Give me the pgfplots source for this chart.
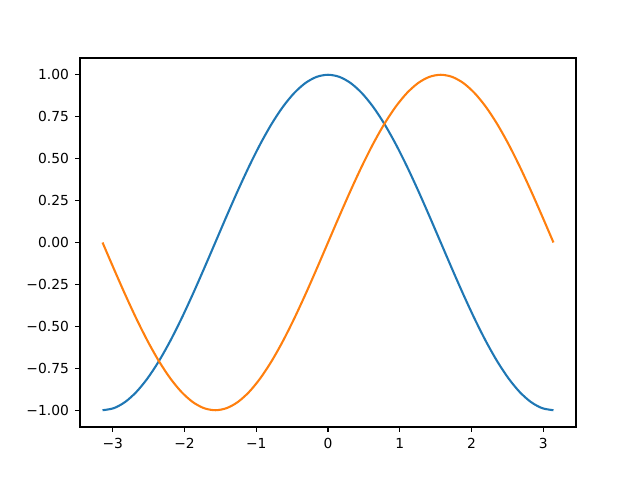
\documentclass[border=0pt]{standalone}
\usepackage{fontspec}
\setmainfont{DejaVu Sans}
\usepackage{pgfplots}
\pgfplotsset{compat=1.18}
\definecolor{tabblue}{HTML}{1F77B4}
\definecolor{taborange}{HTML}{FF7F0E}
\begin{document}
\begin{tikzpicture}
\path[use as bounding box] (-0.80in,-0.53in) rectangle (5.60in,4.27in);
\begin{axis}[
  at={(0,0)}, anchor=south west,
  scale only axis, width=4.96in, height=3.69in,
  xmin=-3.45575, xmax=3.45575, ymin=-1.1, ymax=1.1,
  axis line style={line width=0.8pt},
  tick style={line width=0.8pt, black},
  tick align=outside, major tick length=3.5pt,
  xtick pos=bottom, ytick pos=left,
  xtick={-3,-2,-1,0,1,2,3},
  xticklabels={−3,−2,−1,0,1,2,3},
  ytick={-1,-0.75,-0.5,-0.25,0,0.25,0.5,0.75,1},
  yticklabels={−1.00,−0.75,−0.50,−0.25,0.00,0.25,0.50,0.75,1.00},
  ticklabel style={font=\fontsize{10}{12}\selectfont},
  xticklabel style={yshift=-1pt},
  yticklabel style={xshift=-1pt},
]
\addplot[tabblue, line width=1.5pt, smooth] coordinates {
(-3.14159,-1) (-2.98451,-0.98769) (-2.82743,-0.95106) (-2.67035,-0.89101) (-2.51327,-0.80902)
(-2.35619,-0.70711) (-2.19911,-0.58779) (-2.04204,-0.45399) (-1.88496,-0.30902) (-1.72788,-0.15643)
(-1.57080,0) (-1.41372,0.15643) (-1.25664,0.30902) (-1.09956,0.45399) (-0.94248,0.58779)
(-0.78540,0.70711) (-0.62832,0.80902) (-0.47124,0.89101) (-0.31416,0.95106) (-0.15708,0.98769)
(0,1)
(0.15708,0.98769) (0.31416,0.95106) (0.47124,0.89101) (0.62832,0.80902) (0.78540,0.70711)
(0.94248,0.58779) (1.09956,0.45399) (1.25664,0.30902) (1.41372,0.15643) (1.57080,0)
(1.72788,-0.15643) (1.88496,-0.30902) (2.04204,-0.45399) (2.19911,-0.58779) (2.35619,-0.70711)
(2.51327,-0.80902) (2.67035,-0.89101) (2.82743,-0.95106) (2.98451,-0.98769) (3.14159,-1)
};
\addplot[taborange, line width=1.5pt, smooth] coordinates {
(-3.14159,0) (-2.98451,-0.15643) (-2.82743,-0.30902) (-2.67035,-0.45399) (-2.51327,-0.58779)
(-2.35619,-0.70711) (-2.19911,-0.80902) (-2.04204,-0.89101) (-1.88496,-0.95106) (-1.72788,-0.98769)
(-1.57080,-1) (-1.41372,-0.98769) (-1.25664,-0.95106) (-1.09956,-0.89101) (-0.94248,-0.80902)
(-0.78540,-0.70711) (-0.62832,-0.58779) (-0.47124,-0.45399) (-0.31416,-0.30902) (-0.15708,-0.15643)
(0,0)
(0.15708,0.15643) (0.31416,0.30902) (0.47124,0.45399) (0.62832,0.58779) (0.78540,0.70711)
(0.94248,0.80902) (1.09956,0.89101) (1.25664,0.95106) (1.41372,0.98769) (1.57080,1)
(1.72788,0.98769) (1.88496,0.95106) (2.04204,0.89101) (2.19911,0.80902) (2.35619,0.70711)
(2.51327,0.58779) (2.67035,0.45399) (2.82743,0.30902) (2.98451,0.15643) (3.14159,0)
};
\end{axis}
\end{tikzpicture}
\end{document}
